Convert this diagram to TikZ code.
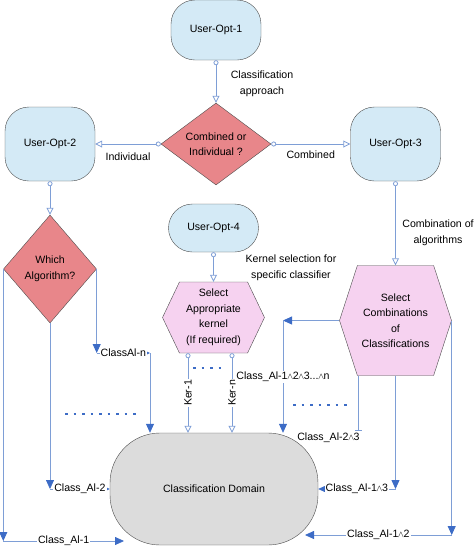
\documentclass[tikz,border=0pt]{standalone}
\usepackage{fontspec}
\setmainfont{Liberation Sans}
\usetikzlibrary{shapes.geometric,shapes.symbols,arrows.meta,calc,positioning}
\definecolor{optblue}{HTML}{D4EAF6}
\definecolor{decred}{HTML}{E8868A}
\definecolor{selpink}{HTML}{F6D2F0}
\definecolor{domgray}{HTML}{DCDCDC}
\definecolor{linkblue}{HTML}{7E9ED6}
\definecolor{tipblue}{HTML}{3D6CC6}
\newcommand{\andop}{\kern-.5pt{\small$\wedge$}\kern-.5pt}
\tikzset{
  every node/.style={font=\fontsize{10.6}{15.5}\selectfont},
  useropt/.style={draw=black!70, fill=optblue, rounded corners=24pt, minimum width=90pt, minimum height=74pt, align=center},
  decision/.style={diamond, draw=black!70, fill=decred, inner sep=0pt, align=center},
  selector/.style={signal, signal to=east and west, draw=black!70, fill=selpink, inner sep=0pt, align=center},
  domainbox/.style={draw=black!70, fill=domgray, rounded corners=50pt, minimum width=208pt, minimum height=112pt},
  link/.style={draw=linkblue, line width=0.8pt, {Circle[open,length=5pt,width=5pt,fill=white]}-{Triangle[open,length=7pt,width=7pt,fill=white]}},
  flow/.style={draw=linkblue, line width=0.8pt, -{Triangle[length=9pt,width=8pt,color=tipblue]}},
  barend/.style={draw=linkblue, line width=0.8pt, -{Bar[width=7pt]}},
  lbl/.style={fill=white, inner sep=1pt},
  dotrow/.style={draw=tipblue, line width=2.5pt, dash pattern=on 2.5pt off 6pt},
}
\begin{document}
\begin{tikzpicture}[x=1pt,y=-1pt]
\useasboundingbox (0,0) rectangle (474,550);
% options and decisions
\node[useropt, minimum height=60pt] (opt1) at (216,30) {User-Opt-1};
\node[decision, minimum width=110pt, minimum height=82pt, shape aspect=1.34] (combi) at (216,144) {Combined or\\Individual ?};
\node[useropt] (opt2) at (50,144) {User-Opt-2};
\node[useropt] (opt3) at (395.5,144) {User-Opt-3};
\node[decision, minimum width=93pt, minimum height=108pt, shape aspect=0.86] (which) at (50,269) {Which\\Algorithm?};
\node[useropt, minimum height=48pt] (opt4) at (213.5,228) {User-Opt-4};
\node[selector, minimum width=102pt, minimum height=71pt, signal pointer angle=129] (kern) at (213.5,317.5) {Select\\Appropriate\\kernel\\(If required)};
\node[selector, minimum width=112pt, minimum height=110pt, signal pointer angle=144] (comb) at (395.5,320.5) {Select\\Combinations\\of\\Classifications};
\node[domainbox] (domain) at (214,489) {Classification Domain};

% labels beside the links
\node[align=center] (lapp) at (262,84) {Classification\\approach};
\node[align=center] (lker) at (291,268) {Kernel selection for\\specific classifier};
\node[align=center] (lcomb) at (438,233) {Combination of\\algorithms};

% user choices
\draw[link] (opt1) -- (combi);
\draw[link] (combi.west) -- node[below=5pt]{Individual} (opt2.east);
\draw[link] (combi.east) -- node[below=3pt]{Combined} (opt3.west);
\draw[link] (opt2) -- (which);
\draw[link] (opt3) -- (comb);
\draw[link] (opt4) -- (kern);

% kernels
\coordinate (k1) at ($(kern.south)+(-25.5,0)$);
\coordinate (kn) at ($(kern.south)+(18.5,0)$);
\draw[link] (k1) -- node[lbl, rotate=90]{Ker-1} (k1 |- domain.north);
\draw[link] (kn) -- node[lbl, rotate=90]{Ker-n} (kn |- domain.north);

% single algorithms
\coordinate (e1) at (124,541);
\draw[flow] (which.west) -- (which.west |- 0,541) coordinate (c1);
\draw[flow] (c1) -- node[lbl]{Class\_Al-1} (e1);
\draw[flow] (which.south) -- (which.south |- 0,489) coordinate (c2);
\draw[flow] (c2) -- node[lbl]{Class\_Al-2} (domain.west);
\draw[flow] (which.east) -- (which.east |- 0,353) coordinate (cn);
\draw[flow] (cn) -- node[lbl]{ClassAl-n} (150,353) coordinate (cn2);
\draw[flow] (cn2) -- (cn2 |- domain.north);

% combinations
\coordinate (e12) at (305,535);
\draw[flow] (comb.west) -- (comb.west -| 283,0) coordinate (cc);
\draw[flow] (cc) -- node[lbl]{Class\_Al-1\andop2\andop3...\andop n} (cc |- domain.north);
\coordinate (c23) at ($(comb.south)+(-37.5,0)$);
\draw[barend] (c23) -- (c23 |- 0,431) node[anchor=north east, inner sep=1pt, xshift=3pt]{Class\_Al-2\andop3};
\draw[flow] (comb.south) -- (comb.south |- 0,489) coordinate (c13);
\draw[flow] (c13) -- node[lbl]{Class\_Al-1\andop3} (domain.east);
\draw[flow] (comb.east) -- (comb.east |- 0,535) coordinate (c12);
\draw[flow] (c12) -- node[lbl]{Class\_Al-1\andop2} (e12);

% more of the same
\draw[dotrow] (65,414) -- (138,414);
\draw[dotrow] (193,368) -- (225,368);
\draw[dotrow] (293,405) -- (350,405);
\end{tikzpicture}
\end{document}
